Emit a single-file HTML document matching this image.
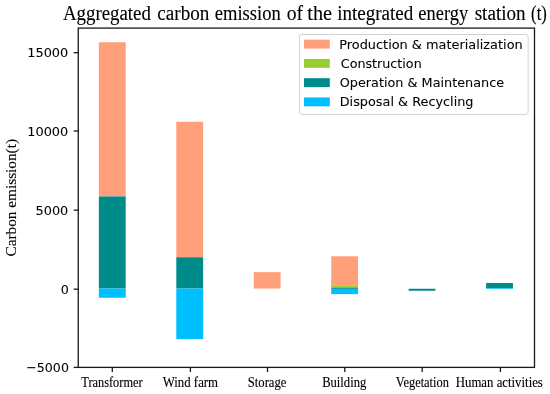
<!DOCTYPE html>
<html><head><meta charset="utf-8"><title>Aggregated carbon emission</title>
<style>
html,body{margin:0;padding:0;background:#fff;}
svg{display:block;}
text{white-space:pre;}
.t{font-family:"Liberation Serif","Times New Roman",serif;fill:#000;stroke:#000;stroke-width:0.12;}
.d{font-family:"DejaVu Sans",sans-serif;fill:#000;stroke:#000;stroke-width:0.072;}
</style></head><body>
<svg width="550" height="394" viewBox="0 0 550 394">
<rect width="550" height="394" fill="#fff"/>
<rect x="98.85" y="42.22" width="26.85" height="154.23" fill="#FFA07A"/>
<rect x="98.85" y="196.45" width="26.85" height="92.10" fill="#008B8B"/>
<rect x="98.85" y="288.55" width="26.85" height="9.20" fill="#00BFFF"/>
<rect x="176.30" y="121.75" width="26.85" height="135.50" fill="#FFA07A"/>
<rect x="176.30" y="257.25" width="26.85" height="31.30" fill="#008B8B"/>
<rect x="176.30" y="288.55" width="26.85" height="50.49" fill="#00BFFF"/>
<rect x="253.75" y="272.14" width="26.85" height="16.41" fill="#FFA07A"/>
<rect x="331.20" y="256.30" width="26.85" height="29.60" fill="#FFA07A"/>
<rect x="331.20" y="285.90" width="26.85" height="1.75" fill="#9ACD32"/>
<rect x="331.20" y="287.65" width="26.85" height="1.20" fill="#008B8B"/>
<rect x="331.20" y="288.85" width="26.85" height="5.25" fill="#00BFFF"/>
<rect x="408.65" y="288.75" width="26.85" height="2.00" fill="#008B8B"/>
<rect x="486.10" y="283.00" width="26.85" height="5.35" fill="#008B8B"/>
<rect x="486.10" y="288.35" width="26.85" height="0.65" fill="#00BFFF"/>
<rect x="78.25" y="28.10" width="456.25" height="339.30" fill="none" stroke="#181818" stroke-width="1.3"/>
<line x1="73.65" x2="78.25" y1="367.40" y2="367.40" stroke="#181818" stroke-width="1.3"/>
<line x1="73.65" x2="78.25" y1="289.20" y2="289.20" stroke="#181818" stroke-width="1.3"/>
<line x1="73.65" x2="78.25" y1="210.15" y2="210.15" stroke="#181818" stroke-width="1.3"/>
<line x1="73.65" x2="78.25" y1="131.00" y2="131.00" stroke="#181818" stroke-width="1.3"/>
<line x1="73.65" x2="78.25" y1="52.70" y2="52.70" stroke="#181818" stroke-width="1.3"/>
<line x1="112.30" x2="112.30" y1="367.40" y2="372.00" stroke="#181818" stroke-width="1.3"/>
<line x1="190.40" x2="190.40" y1="367.40" y2="372.00" stroke="#181818" stroke-width="1.3"/>
<line x1="267.50" x2="267.50" y1="367.40" y2="372.00" stroke="#181818" stroke-width="1.3"/>
<line x1="344.80" x2="344.80" y1="367.40" y2="372.00" stroke="#181818" stroke-width="1.3"/>
<line x1="422.20" x2="422.20" y1="367.40" y2="372.00" stroke="#181818" stroke-width="1.3"/>
<line x1="500.40" x2="500.40" y1="367.40" y2="372.00" stroke="#181818" stroke-width="1.3"/>
<text id="title" class="t" y="19.55" font-size="20"><tspan id="tw0" x="62.93" textLength="87.94" lengthAdjust="spacingAndGlyphs">Aggregated</tspan> <tspan id="tw1" x="157.37" textLength="52.08" lengthAdjust="spacingAndGlyphs">carbon</tspan> <tspan id="tw2" x="214.71" textLength="66.01" lengthAdjust="spacingAndGlyphs">emission</tspan> <tspan id="tw3" x="286.73" textLength="16.37" lengthAdjust="spacingAndGlyphs">of</tspan> <tspan id="tw4" x="307.36" textLength="24.72" lengthAdjust="spacingAndGlyphs">the</tspan> <tspan id="tw5" x="337.21" textLength="76.09" lengthAdjust="spacingAndGlyphs">integrated</tspan> <tspan id="tw6" x="418.37" textLength="49.73" lengthAdjust="spacingAndGlyphs">energy</tspan> <tspan id="tw7" x="474.63" textLength="51.04" lengthAdjust="spacingAndGlyphs">station</tspan> <tspan id="tw8" x="531.12" textLength="15.73" lengthAdjust="spacingAndGlyphs">(t)</tspan></text>
<rect x="299.5" y="34.5" width="228.7" height="79.9" rx="2.5" ry="2.5" fill="#fff" fill-opacity="0.8" stroke="#d2d2d2" stroke-width="1"/>
<rect x="304" y="39.70" width="25.8" height="8.9" fill="#FFA07A"/>
<rect x="304" y="58.95" width="25.8" height="8.9" fill="#9ACD32"/>
<rect x="304" y="78.20" width="25.8" height="8.9" fill="#008B8B"/>
<rect x="304" y="97.45" width="25.8" height="8.9" fill="#00BFFF"/>
<text id="y-5000" class="d" x="26.28" y="372.15" font-size="13.1" textLength="42.65" lengthAdjust="spacingAndGlyphs">−5000</text>
<text id="y0" class="d" x="60.75" y="293.95" font-size="13.1" textLength="8.08" lengthAdjust="spacingAndGlyphs">0</text>
<text id="y5000" class="d" x="35.52" y="214.90" font-size="13.1" textLength="32.79" lengthAdjust="spacingAndGlyphs">5000</text>
<text id="y10000" class="d" x="27.23" y="135.75" font-size="13.1" textLength="41.08" lengthAdjust="spacingAndGlyphs">10000</text>
<text id="y15000" class="d" x="27.23" y="57.45" font-size="13.1" textLength="41.08" lengthAdjust="spacingAndGlyphs">15000</text>
<text id="x0" class="t" x="81.32" y="386.60" font-size="14.0" textLength="61.31" lengthAdjust="spacingAndGlyphs">Transformer</text>
<text id="x1" class="t" x="162.68" y="386.60" font-size="14.0" textLength="55.42" lengthAdjust="spacingAndGlyphs">Wind farm</text>
<text id="x2" class="t" x="247.71" y="386.60" font-size="14.0" textLength="38.75" lengthAdjust="spacingAndGlyphs">Storage</text>
<text id="x3" class="t" x="322.13" y="386.60" font-size="14.0" textLength="44.11" lengthAdjust="spacingAndGlyphs">Building</text>
<text id="x4" class="t" x="395.80" y="386.60" font-size="14.0" textLength="53.16" lengthAdjust="spacingAndGlyphs">Vegetation</text>
<text id="x5" class="t" x="455.75" y="386.60" font-size="14.0" textLength="87.11" lengthAdjust="spacingAndGlyphs">Human activities</text>
<text id="ylabel" class="t" transform="translate(16.00,256.49) rotate(-90)" font-size="15.3" textLength="117.51" lengthAdjust="spacingAndGlyphs">Carbon emission(t)</text>
<text id="l0" class="d" x="339.22" y="48.60" font-size="13.1" textLength="183.47" lengthAdjust="spacingAndGlyphs">Production &amp; materialization</text>
<text id="l1" class="d" x="340.77" y="67.80" font-size="13.1" textLength="80.94" lengthAdjust="spacingAndGlyphs">Construction</text>
<text id="l2" class="d" x="339.68" y="87.00" font-size="13.1" textLength="164.43" lengthAdjust="spacingAndGlyphs">Operation &amp; Maintenance</text>
<text id="l3" class="d" x="339.70" y="106.20" font-size="13.1" textLength="133.83" lengthAdjust="spacingAndGlyphs">Disposal &amp; Recycling</text>
</svg>
</body></html>
